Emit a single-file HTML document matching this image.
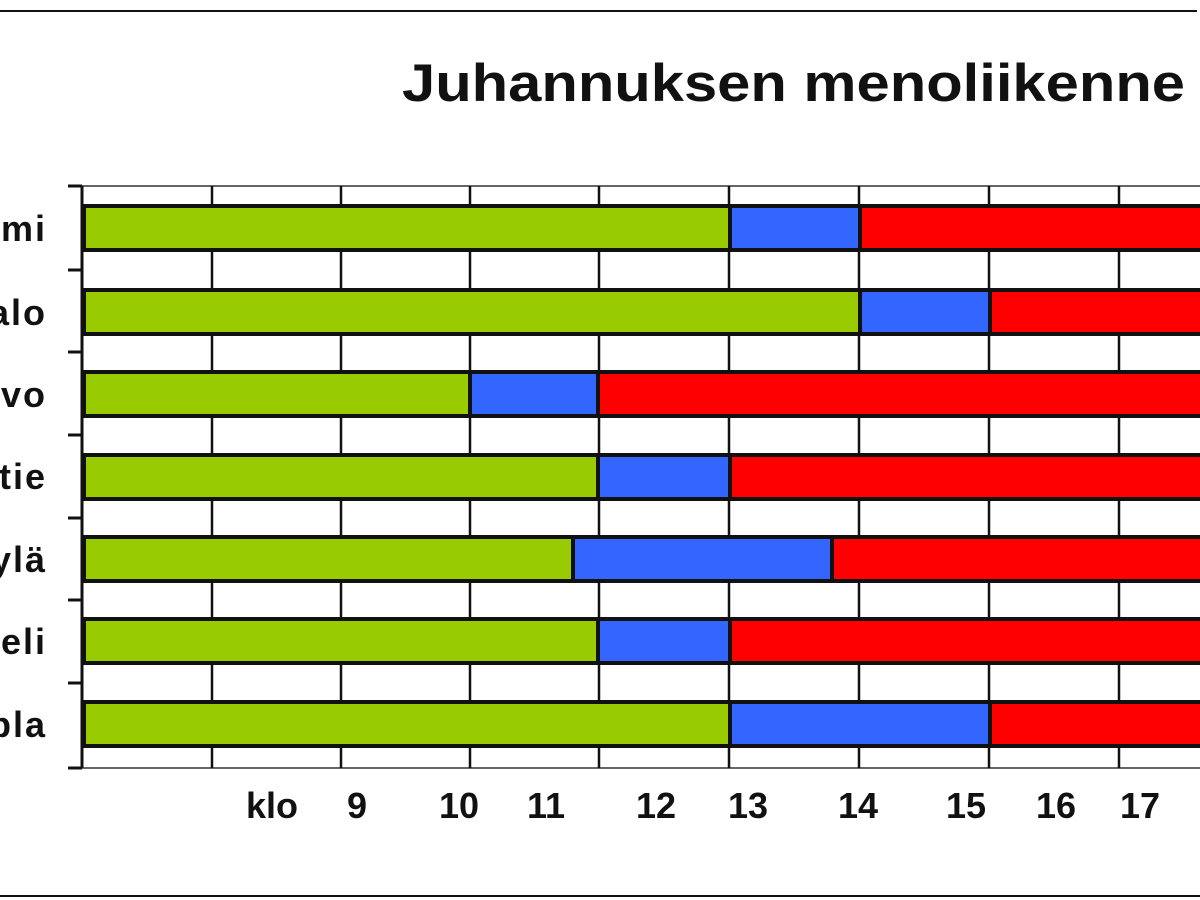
<!DOCTYPE html>
<html><head><meta charset="utf-8"><style>html,body{margin:0;padding:0;background:#fff;}svg{display:block}</style></head>
<body>
<svg width="1200" height="900" xmlns="http://www.w3.org/2000/svg" font-family="Liberation Sans, Arial, sans-serif" font-weight="bold">
<rect width="1200" height="900" fill="#fff"/>
<line x1="0" y1="11" x2="1197" y2="11" stroke="#111" stroke-width="2"/>
<line x1="0" y1="896" x2="1200" y2="896" stroke="#111" stroke-width="2"/>
<text x="402" y="101" font-size="53" fill="#111" textLength="783" lengthAdjust="spacingAndGlyphs">Juhannuksen menoliikenne</text>
<line x1="82" y1="186" x2="1200" y2="186" stroke="#666" stroke-width="2"/>
<line x1="82" y1="768" x2="1200" y2="768" stroke="#666" stroke-width="2"/>
<g stroke="#111" stroke-width="2.5">
<line x1="212" y1="186" x2="212" y2="768"/><line x1="341" y1="186" x2="341" y2="768"/>
<line x1="470" y1="186" x2="470" y2="768"/><line x1="599" y1="186" x2="599" y2="768"/>
<line x1="729" y1="186" x2="729" y2="768"/><line x1="859" y1="186" x2="859" y2="768"/>
<line x1="989" y1="186" x2="989" y2="768"/><line x1="1119" y1="186" x2="1119" y2="768"/>
</g>
<g stroke="#111" stroke-width="3">
<line x1="82" y1="186" x2="82" y2="768"/>
<line x1="68" y1="186" x2="82" y2="186"/><line x1="68" y1="270" x2="82" y2="270"/>
<line x1="68" y1="352" x2="82" y2="352"/><line x1="68" y1="435" x2="82" y2="435"/>
<line x1="68" y1="518" x2="82" y2="518"/><line x1="68" y1="600" x2="82" y2="600"/>
<line x1="68" y1="683" x2="82" y2="683"/><line x1="68" y1="768" x2="82" y2="768"/>
</g>
<g stroke="#111" stroke-width="4">
<rect x="84" y="206" width="646" height="44" fill="#99cc00"/><rect x="730" y="206" width="130" height="44" fill="#3366ff"/><rect x="860" y="206" width="345" height="44" fill="#ff0000"/>
<rect x="84" y="290" width="776" height="44" fill="#99cc00"/><rect x="860" y="290" width="130" height="44" fill="#3366ff"/><rect x="990" y="290" width="215" height="44" fill="#ff0000"/>
<rect x="84" y="372" width="386" height="44" fill="#99cc00"/><rect x="470" y="372" width="128" height="44" fill="#3366ff"/><rect x="598" y="372" width="607" height="44" fill="#ff0000"/>
<rect x="84" y="455" width="514" height="44" fill="#99cc00"/><rect x="598" y="455" width="132" height="44" fill="#3366ff"/><rect x="730" y="455" width="475" height="44" fill="#ff0000"/>
<rect x="84" y="537" width="489" height="44" fill="#99cc00"/><rect x="573" y="537" width="259" height="44" fill="#3366ff"/><rect x="832" y="537" width="373" height="44" fill="#ff0000"/>
<rect x="84" y="619" width="514" height="44" fill="#99cc00"/><rect x="598" y="619" width="132" height="44" fill="#3366ff"/><rect x="730" y="619" width="475" height="44" fill="#ff0000"/>
<rect x="84" y="702" width="646" height="44" fill="#99cc00"/><rect x="730" y="702" width="260" height="44" fill="#3366ff"/><rect x="990" y="702" width="215" height="44" fill="#ff0000"/>
</g>
<g font-size="36" fill="#111" text-anchor="end" letter-spacing="2">
<text x="47" y="241">mi</text><text x="47" y="325">alo</text><text x="47" y="407">vo</text>
<text x="47" y="489">tie</text><text x="47" y="572">ylä</text><text x="47" y="654">eli</text><text x="47" y="737">pla</text>
</g>
<g font-size="36" fill="#111" text-anchor="middle">
<text x="272" y="818">klo</text><text x="357" y="818">9</text><text x="459" y="818">10</text>
<text x="546" y="818">11</text><text x="656" y="818">12</text><text x="748" y="818">13</text>
<text x="858" y="818">14</text><text x="966" y="818">15</text><text x="1056" y="818">16</text><text x="1140" y="818">17</text>
</g>
</svg>
</body></html>
